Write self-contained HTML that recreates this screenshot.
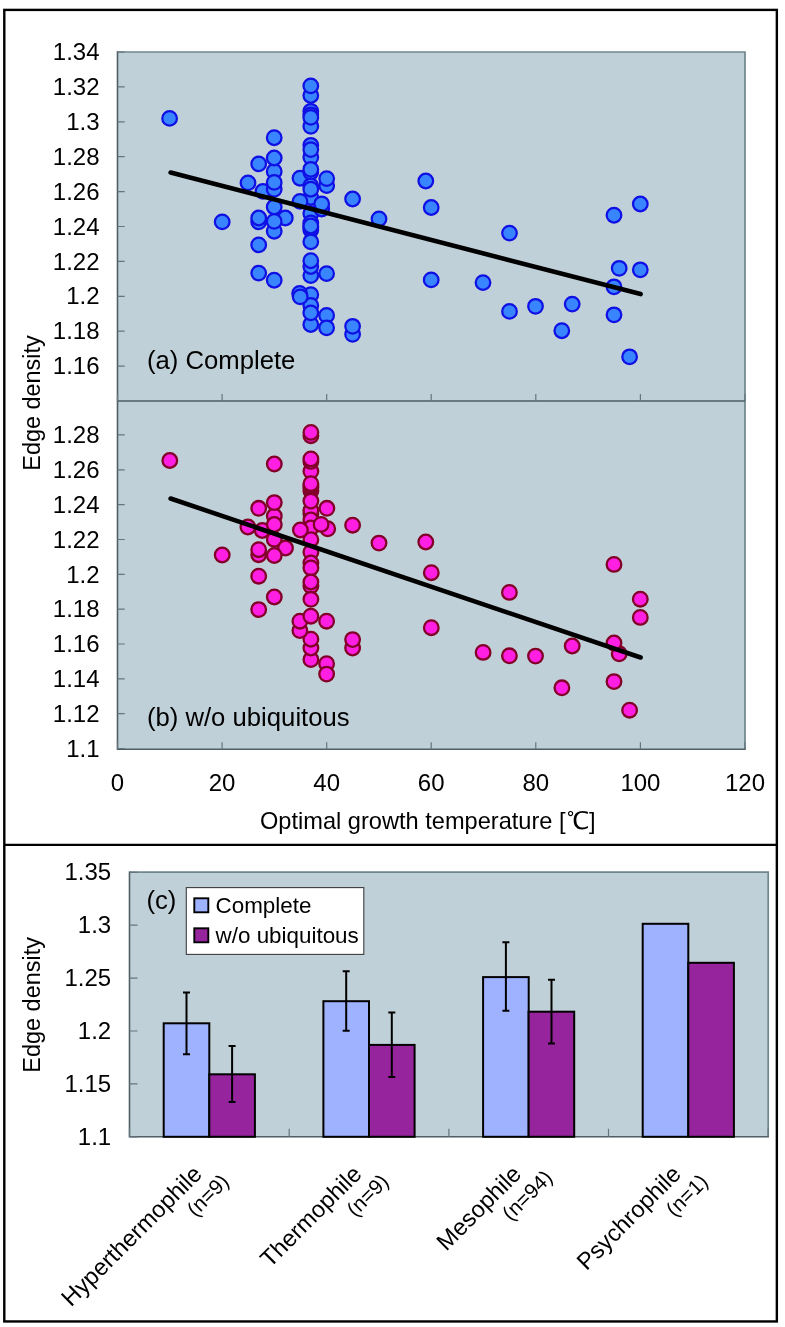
<!DOCTYPE html>
<html><head><meta charset="utf-8"><title>Edge density vs optimal growth temperature</title>
<style>html,body{margin:0;padding:0;background:#fff}svg{display:block}</style></head>
<body>
<svg width="785" height="1327" viewBox="0 0 785 1327" font-family="Liberation Sans, Arial, sans-serif" fill="#000">
<rect width="785" height="1327" fill="#fff"/>
<rect x="4.3" y="9.9" width="772.55" height="1311.55" fill="none" stroke="#000" stroke-width="2.4"/>
<line x1="4.3" y1="844.9" x2="776.85" y2="844.9" stroke="#000" stroke-width="2.3"/>
<rect x="117.5" y="52.0" width="627.5" height="697.2" fill="#c0d0d8"/>
<path d="M117.5 52.0H745.0V749.2" fill="none" stroke="#6e868c" stroke-width="1.7"/>
<path d="M117.5 51.2V749.2H745.8M117.5 401.0H745.0" fill="none" stroke="#4e5e66" stroke-width="1.6"/>
<path d="M117.5 52.0h7.2 M117.5 86.9h7.2 M117.5 121.8h7.2 M117.5 156.7h7.2 M117.5 191.6h7.2 M117.5 226.5h7.2 M117.5 261.4h7.2 M117.5 296.3h7.2 M117.5 331.2h7.2 M117.5 366.1h7.2 M117.5 434.9h7.2 M117.5 469.8h7.2 M117.5 504.6h7.2 M117.5 539.5h7.2 M117.5 574.3h7.2 M117.5 609.2h7.2 M117.5 644.0h7.2 M117.5 678.8h7.2 M117.5 713.7h7.2 M117.5 748.5h7.2 M117.5 401.0v-7 M117.5 749.2v-7 M222.1 401.0v-7 M222.1 749.2v-7 M326.7 401.0v-7 M326.7 749.2v-7 M431.2 401.0v-7 M431.2 749.2v-7 M535.8 401.0v-7 M535.8 749.2v-7 M640.4 401.0v-7 M640.4 749.2v-7 M745.0 401.0v-7 M745.0 749.2v-7" stroke="#65757d" stroke-width="1.2" fill="none"/>
<g font-size="24" text-anchor="end">
<text x="99.5" y="60.1">1.34</text>
<text x="99.5" y="95.1">1.32</text>
<text x="99.5" y="130.0">1.3</text>
<text x="99.5" y="164.9">1.28</text>
<text x="99.5" y="199.8">1.26</text>
<text x="99.5" y="234.7">1.24</text>
<text x="99.5" y="269.5">1.22</text>
<text x="99.5" y="304.4">1.2</text>
<text x="99.5" y="339.3">1.18</text>
<text x="99.5" y="374.2">1.16</text>
<text x="99.5" y="443.0">1.28</text>
<text x="99.5" y="477.9">1.26</text>
<text x="99.5" y="512.8">1.24</text>
<text x="99.5" y="547.6">1.22</text>
<text x="99.5" y="582.5">1.2</text>
<text x="99.5" y="617.3">1.18</text>
<text x="99.5" y="652.1">1.16</text>
<text x="99.5" y="687.0">1.14</text>
<text x="99.5" y="721.8">1.12</text>
<text x="99.5" y="756.7">1.1</text>
</g>
<g font-size="24" text-anchor="middle">
<text x="117.5" y="791">0</text>
<text x="222.1" y="791">20</text>
<text x="326.7" y="791">40</text>
<text x="431.2" y="791">60</text>
<text x="535.8" y="791">80</text>
<text x="640.4" y="791">100</text>
<text x="745.0" y="791">120</text>
</g>
<text font-size="23.45" text-anchor="middle" transform="translate(40,403) rotate(-90)">Edge density</text>
<text font-size="23.6" x="260" y="828.7">Optimal growth temperature [<tspan dx="1.2" dy="0.3" font-size="24.4" font-family="Liberation Sans, WenQuanYi Zen Hei, Noto Sans CJK JP, sans-serif">℃</tspan><tspan dx="-0.3" dy="-0.3">]</tspan></text>
<g fill="#3984ff" stroke="#1010e4" stroke-width="2.25">
<circle cx="169.6" cy="118.4" r="7.3"/>
<circle cx="222.2" cy="221.9" r="7.3"/>
<circle cx="248.0" cy="182.9" r="7.3"/>
<circle cx="258.7" cy="163.9" r="7.3"/>
<circle cx="258.7" cy="221.9" r="7.3"/>
<circle cx="258.7" cy="218.0" r="7.3"/>
<circle cx="258.7" cy="244.9" r="7.3"/>
<circle cx="258.7" cy="273.1" r="7.3"/>
<circle cx="263.0" cy="191.3" r="7.3"/>
<circle cx="274.2" cy="137.7" r="7.3"/>
<circle cx="274.2" cy="171.4" r="7.3"/>
<circle cx="274.2" cy="158.0" r="7.3"/>
<circle cx="274.2" cy="189.3" r="7.3"/>
<circle cx="274.2" cy="182.4" r="7.3"/>
<circle cx="274.2" cy="207.0" r="7.3"/>
<circle cx="274.2" cy="231.2" r="7.3"/>
<circle cx="285.3" cy="218.0" r="7.3"/>
<circle cx="274.2" cy="221.4" r="7.3"/>
<circle cx="274.2" cy="280.2" r="7.3"/>
<circle cx="300.0" cy="178.2" r="7.3"/>
<circle cx="310.8" cy="95.5" r="7.3"/>
<circle cx="310.8" cy="85.9" r="7.3"/>
<circle cx="310.8" cy="111.3" r="7.3"/>
<circle cx="310.8" cy="114.8" r="7.3"/>
<circle cx="310.8" cy="126.3" r="7.3"/>
<circle cx="310.8" cy="117.4" r="7.3"/>
<circle cx="310.8" cy="145.3" r="7.3"/>
<circle cx="310.8" cy="157.3" r="7.3"/>
<circle cx="310.8" cy="149.6" r="7.3"/>
<circle cx="310.8" cy="172.2" r="7.3"/>
<circle cx="310.8" cy="169.3" r="7.3"/>
<circle cx="310.8" cy="185.8" r="7.3"/>
<circle cx="310.8" cy="197.4" r="7.3"/>
<circle cx="310.8" cy="189.2" r="7.3"/>
<circle cx="310.8" cy="213.5" r="7.3"/>
<circle cx="310.8" cy="222.9" r="7.3"/>
<circle cx="310.8" cy="230.0" r="7.3"/>
<circle cx="310.8" cy="227.3" r="7.3"/>
<circle cx="310.8" cy="226.0" r="7.3"/>
<circle cx="310.8" cy="241.8" r="7.3"/>
<circle cx="310.8" cy="275.6" r="7.3"/>
<circle cx="310.8" cy="266.5" r="7.3"/>
<circle cx="310.8" cy="260.7" r="7.3"/>
<circle cx="310.8" cy="294.7" r="7.3"/>
<circle cx="310.8" cy="305.4" r="7.3"/>
<circle cx="310.8" cy="324.5" r="7.3"/>
<circle cx="310.8" cy="312.9" r="7.3"/>
<circle cx="300.0" cy="201.4" r="7.3"/>
<circle cx="299.6" cy="293.4" r="7.3"/>
<circle cx="300.2" cy="296.9" r="7.3"/>
<circle cx="321.7" cy="209.0" r="7.3"/>
<circle cx="321.7" cy="203.8" r="7.3"/>
<circle cx="326.7" cy="185.6" r="7.3"/>
<circle cx="326.7" cy="178.6" r="7.3"/>
<circle cx="326.6" cy="273.6" r="7.3"/>
<circle cx="326.6" cy="315.4" r="7.3"/>
<circle cx="326.6" cy="327.8" r="7.3"/>
<circle cx="352.6" cy="199.0" r="7.3"/>
<circle cx="352.6" cy="334.3" r="7.3"/>
<circle cx="352.6" cy="326.3" r="7.3"/>
<circle cx="379.0" cy="218.9" r="7.3"/>
<circle cx="425.8" cy="181.0" r="7.3"/>
<circle cx="431.2" cy="207.5" r="7.3"/>
<circle cx="431.2" cy="279.9" r="7.3"/>
<circle cx="483.0" cy="282.6" r="7.3"/>
<circle cx="509.5" cy="233.1" r="7.3"/>
<circle cx="509.5" cy="311.4" r="7.3"/>
<circle cx="535.5" cy="306.3" r="7.3"/>
<circle cx="561.8" cy="330.7" r="7.3"/>
<circle cx="572.2" cy="304.1" r="7.3"/>
<circle cx="614.0" cy="215.2" r="7.3"/>
<circle cx="614.0" cy="286.8" r="7.3"/>
<circle cx="614.0" cy="314.8" r="7.3"/>
<circle cx="619.2" cy="268.3" r="7.3"/>
<circle cx="629.6" cy="356.8" r="7.3"/>
<circle cx="640.3" cy="204.0" r="7.3"/>
<circle cx="640.3" cy="269.8" r="7.3"/>
</g>
<line x1="170.6" y1="172.5" x2="640.6" y2="294.1" stroke="#000" stroke-width="4.6" stroke-linecap="round"/>
<text font-size="25.7" x="146.9" y="368.6">(a) Complete</text>
<g fill="#ff1fe2" stroke="#820028" stroke-width="2.3">
<circle cx="169.8" cy="460.5" r="7.3"/>
<circle cx="222.2" cy="555.0" r="7.3"/>
<circle cx="247.9" cy="527.0" r="7.3"/>
<circle cx="258.7" cy="508.3" r="7.3"/>
<circle cx="262.3" cy="530.5" r="7.3"/>
<circle cx="258.7" cy="554.7" r="7.3"/>
<circle cx="258.7" cy="549.7" r="7.3"/>
<circle cx="258.7" cy="576.2" r="7.3"/>
<circle cx="258.7" cy="609.6" r="7.3"/>
<circle cx="274.3" cy="464.0" r="7.3"/>
<circle cx="274.3" cy="516.0" r="7.3"/>
<circle cx="274.3" cy="502.6" r="7.3"/>
<circle cx="274.3" cy="539.4" r="7.3"/>
<circle cx="274.3" cy="524.5" r="7.3"/>
<circle cx="285.5" cy="548.0" r="7.3"/>
<circle cx="274.3" cy="555.5" r="7.3"/>
<circle cx="274.3" cy="597.0" r="7.3"/>
<circle cx="310.9" cy="435.7" r="7.3"/>
<circle cx="310.9" cy="432.4" r="7.3"/>
<circle cx="310.9" cy="471.3" r="7.3"/>
<circle cx="310.9" cy="461.4" r="7.3"/>
<circle cx="310.9" cy="458.9" r="7.3"/>
<circle cx="310.9" cy="491.0" r="7.3"/>
<circle cx="310.9" cy="487.6" r="7.3"/>
<circle cx="310.9" cy="485.6" r="7.3"/>
<circle cx="310.9" cy="483.7" r="7.3"/>
<circle cx="310.9" cy="514.0" r="7.3"/>
<circle cx="310.9" cy="510.6" r="7.3"/>
<circle cx="310.9" cy="501.1" r="7.3"/>
<circle cx="310.9" cy="520.0" r="7.3"/>
<circle cx="310.9" cy="528.0" r="7.3"/>
<circle cx="310.9" cy="539.7" r="7.3"/>
<circle cx="310.9" cy="552.2" r="7.3"/>
<circle cx="310.9" cy="563.0" r="7.3"/>
<circle cx="310.9" cy="567.9" r="7.3"/>
<circle cx="310.9" cy="586.0" r="7.3"/>
<circle cx="310.9" cy="582.0" r="7.3"/>
<circle cx="310.9" cy="599.3" r="7.3"/>
<circle cx="310.9" cy="659.6" r="7.3"/>
<circle cx="310.9" cy="648.0" r="7.3"/>
<circle cx="310.9" cy="639.2" r="7.3"/>
<circle cx="300.4" cy="530.0" r="7.3"/>
<circle cx="299.9" cy="630.6" r="7.3"/>
<circle cx="299.9" cy="621.2" r="7.3"/>
<circle cx="310.9" cy="616.2" r="7.3"/>
<circle cx="326.9" cy="508.3" r="7.3"/>
<circle cx="327.7" cy="528.8" r="7.3"/>
<circle cx="321.1" cy="524.4" r="7.3"/>
<circle cx="326.6" cy="621.2" r="7.3"/>
<circle cx="326.6" cy="663.7" r="7.3"/>
<circle cx="326.6" cy="674.1" r="7.3"/>
<circle cx="352.6" cy="525.2" r="7.3"/>
<circle cx="352.6" cy="648.0" r="7.3"/>
<circle cx="352.6" cy="639.6" r="7.3"/>
<circle cx="379.0" cy="543.1" r="7.3"/>
<circle cx="425.8" cy="542.0" r="7.3"/>
<circle cx="431.3" cy="572.7" r="7.3"/>
<circle cx="431.3" cy="627.7" r="7.3"/>
<circle cx="483.1" cy="652.4" r="7.3"/>
<circle cx="509.4" cy="592.4" r="7.3"/>
<circle cx="509.4" cy="655.8" r="7.3"/>
<circle cx="535.5" cy="656.1" r="7.3"/>
<circle cx="561.9" cy="687.8" r="7.3"/>
<circle cx="572.2" cy="646.0" r="7.3"/>
<circle cx="614.0" cy="564.4" r="7.3"/>
<circle cx="619.2" cy="653.8" r="7.3"/>
<circle cx="614.0" cy="643.0" r="7.3"/>
<circle cx="614.0" cy="681.6" r="7.3"/>
<circle cx="629.6" cy="710.2" r="7.3"/>
<circle cx="640.3" cy="599.2" r="7.3"/>
<circle cx="640.3" cy="617.4" r="7.3"/>
</g>
<line x1="170.6" y1="498.5" x2="640.6" y2="657.5" stroke="#000" stroke-width="4.6" stroke-linecap="round"/>
<text font-size="25.7" x="146.9" y="726.3">(b) w/o ubiquitous</text>
<rect x="129.5" y="872.2" width="638.7" height="264.5999999999999" fill="#c0d0d8"/>
<path d="M129.5 872.2H768.2V1136.8" fill="none" stroke="#6e868c" stroke-width="1.7"/>
<path d="M129.5 871.4000000000001V1136.8H769.0" fill="none" stroke="#4e5e66" stroke-width="1.6"/>
<path d="M129.5 1136.8h8 M129.5 1083.9h8 M129.5 1031.0h8 M129.5 978.1h8 M129.5 925.2h8 M129.5 872.3h8 M129.5 1136.8v-8 M289.2 1136.8v-8 M448.9 1136.8v-8 M608.5 1136.8v-8 M768.2 1136.8v-8" stroke="#65757d" stroke-width="1.2" fill="none"/>
<g font-size="24" text-anchor="end">
<text x="111.2" y="1144.8">1.1</text>
<text x="111.2" y="1091.9">1.15</text>
<text x="111.2" y="1039.0">1.2</text>
<text x="111.2" y="986.1">1.25</text>
<text x="111.2" y="933.2">1.3</text>
<text x="111.2" y="880.3">1.35</text>
</g>
<text font-size="23.45" text-anchor="middle" transform="translate(40,1004.9) rotate(-90)">Edge density</text>
<rect x="163.7" y="1023.3" width="45.6" height="113.5" fill="#9fb2ff" stroke="#000" stroke-width="2"/>
<rect x="209.3" y="1074.3" width="45.6" height="62.5" fill="#96249c" stroke="#000" stroke-width="2"/>
<path d="M186.5 992.6V1054.3M183.0 992.6h7M183.0 1054.3h7" stroke="#000" stroke-width="2" fill="none"/>
<path d="M232.1 1046.1V1101.9M228.6 1046.1h7M228.6 1101.9h7" stroke="#000" stroke-width="2" fill="none"/>
<rect x="323.4" y="1001.2" width="45.6" height="135.6" fill="#9fb2ff" stroke="#000" stroke-width="2"/>
<rect x="369.0" y="1044.9" width="45.6" height="91.9" fill="#96249c" stroke="#000" stroke-width="2"/>
<path d="M346.2 971.3V1030.7M342.7 971.3h7M342.7 1030.7h7" stroke="#000" stroke-width="2" fill="none"/>
<path d="M391.8 1012.4V1077.0M388.3 1012.4h7M388.3 1077.0h7" stroke="#000" stroke-width="2" fill="none"/>
<rect x="483.1" y="977.1" width="45.6" height="159.7" fill="#9fb2ff" stroke="#000" stroke-width="2"/>
<rect x="528.6" y="1011.7" width="45.6" height="125.1" fill="#96249c" stroke="#000" stroke-width="2"/>
<path d="M505.9 942.2V1010.7M502.4 942.2h7M502.4 1010.7h7" stroke="#000" stroke-width="2" fill="none"/>
<path d="M551.5 979.7V1043.6M548.0 979.7h7M548.0 1043.6h7" stroke="#000" stroke-width="2" fill="none"/>
<rect x="642.7" y="923.8" width="45.6" height="213.0" fill="#9fb2ff" stroke="#000" stroke-width="2"/>
<rect x="688.3" y="962.8" width="45.6" height="174.0" fill="#96249c" stroke="#000" stroke-width="2"/>
<rect x="186.3" y="887.6" width="177.5" height="66.8" fill="#fff" stroke="#3c3c3c" stroke-width="1.1"/>
<rect x="194.3" y="898.3" width="14" height="14" fill="#9fb2ff" stroke="#000" stroke-width="1.9"/>
<rect x="194.3" y="928.3" width="14" height="14" fill="#96249c" stroke="#000" stroke-width="1.9"/>
<text font-size="22.4" x="215.6" y="913.2">Complete</text>
<text font-size="22.4" x="215.6" y="943">w/o ubiquitous</text>
<text font-size="25.7" x="146.4" y="909.1">(c)</text>
<text font-size="23.7" text-anchor="end" transform="translate(203.3,1175.4) rotate(-45)">Hyperthermophile</text>
<text font-size="20.8" text-anchor="middle" transform="translate(212.8,1200.3) rotate(-45)">(n=9)</text>
<text font-size="23.7" text-anchor="end" transform="translate(363.0,1175.4) rotate(-45)">Thermophile</text>
<text font-size="20.8" text-anchor="middle" transform="translate(372.5,1200.3) rotate(-45)">(n=9)</text>
<text font-size="23.7" text-anchor="end" transform="translate(522.7,1175.4) rotate(-45)">Mesophile</text>
<text font-size="20.8" text-anchor="middle" transform="translate(532.2,1200.3) rotate(-45)">(n=94)</text>
<text font-size="23.7" text-anchor="end" transform="translate(682.4,1175.4) rotate(-45)">Psychrophile</text>
<text font-size="20.8" text-anchor="middle" transform="translate(691.9,1200.3) rotate(-45)">(n=1)</text>
</svg>
</body></html>
